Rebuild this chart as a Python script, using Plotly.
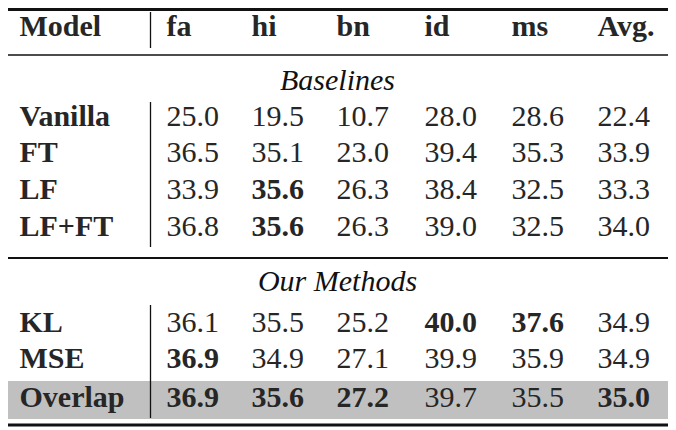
import plotly.graph_objects as go

# table content
HEADERS = ["Model", "fa", "hi", "bn", "id", "ms", "Avg."]
SECTIONS = ["Baselines", "Our Methods"]
BASE_MODELS = ["Vanilla", "FT", "LF", "LF+FT"]
OUR_MODELS = ["KL", "MSE", "Overlap"]
BASE_VALUES = [
    [25.0, 19.5, 10.7, 28.0, 28.6, 22.4],
    [36.5, 35.1, 23.0, 39.4, 35.3, 33.9],
    [33.9, 35.6, 26.3, 38.4, 32.5, 33.3],
    [36.8, 35.6, 26.3, 39.0, 32.5, 34.0],
]
OUR_VALUES = [
    [36.1, 35.5, 25.2, 40.0, 37.6, 34.9],
    [36.9, 34.9, 27.1, 39.9, 35.9, 34.9],
    [36.9, 35.6, 27.2, 39.7, 35.5, 35.0],
]
HIGHLIGHT = "Overlap"

# layout in screen pixels (the page adds an 8px body margin)
W, H = 676, 430
X_RANGE = [8, 8 + W]
Y_RANGE = [8 + H, 8]
COL_X = [21, 168, 253, 338, 426, 513, 599]
HEADER_Y = 28
SECTION_Y = [82, 283]
BASE_Y = [118, 154, 191, 228]
OUR_Y = [324, 360, 399]
LEFT, RIGHT = 8, 672
DIVIDER_X = 150.5
TEXT_DX = -1.5  # compensate plotly's text offset
TEXT_DY = 0
FONT = "Liberation Serif"
INK = "#262626"

all_vals = BASE_VALUES + OUR_VALUES
col_max = [max(r[j] for r in all_vals) for j in range(len(HEADERS) - 1)]

xs, ys, texts = [], [], []


def add_cell(x, y, t):
    xs.append(x + TEXT_DX)
    ys.append(y + TEXT_DY)
    texts.append(t)


for j, h in enumerate(HEADERS):
    add_cell(COL_X[j], HEADER_Y, f"<b>{h}</b>")

for models, values, rows_y in [(BASE_MODELS, BASE_VALUES, BASE_Y), (OUR_MODELS, OUR_VALUES, OUR_Y)]:
    for name, vals, y in zip(models, values, rows_y):
        add_cell(COL_X[0], y, f"<b>{name}</b>")
        for j, v in enumerate(vals):
            s = f"{v:.1f}"
            if v == col_max[j]:
                s = f"<b>{s}</b>"
            add_cell(COL_X[j + 1], y, s)

fig = go.Figure()
fig.add_trace(
    go.Scatter(
        x=xs, y=ys, text=texts, mode="text", textposition="middle right",
        textfont=dict(family=FONT, size=30, color=INK), showlegend=False,
    )
)
fig.add_trace(
    go.Scatter(
        x=[(3 + RIGHT) / 2] * len(SECTIONS), y=[y + TEXT_DY for y in SECTION_Y],
        text=[f"<i>{s}</i>" for s in SECTIONS], mode="text", textposition="middle center",
        textfont=dict(family=FONT, size=30, color="#111111"), showlegend=False,
    )
)

shapes = []
hl_y = OUR_Y[OUR_MODELS.index(HIGHLIGHT)]
shapes.append(dict(type="rect", x0=LEFT, x1=RIGHT, y0=hl_y - 18, y1=hl_y + 20,
                   fillcolor="#c0c0c0", line_width=0, layer="below"))
for y, w in [(9.5, 3), (55, 1.6), (258, 2.2), (425, 3.2)]:
    shapes.append(dict(type="line", x0=LEFT, x1=RIGHT, y0=y, y1=y, line=dict(color="#111111", width=w)))
for y0, y1 in [(12, 48), (102, 247), (305, 418)]:
    shapes.append(dict(type="line", x0=DIVIDER_X, x1=DIVIDER_X, y0=y0, y1=y1, line=dict(color="#111111", width=1.3)))

fig.update_layout(
    width=W, height=H,
    font=dict(family=FONT),
    margin=dict(l=0, r=0, t=0, b=0),
    paper_bgcolor="#ffffff", plot_bgcolor="#ffffff",
    xaxis=dict(range=X_RANGE, visible=False),
    yaxis=dict(range=Y_RANGE, visible=False),
    shapes=shapes,
)
fig.write_html("out.html")
